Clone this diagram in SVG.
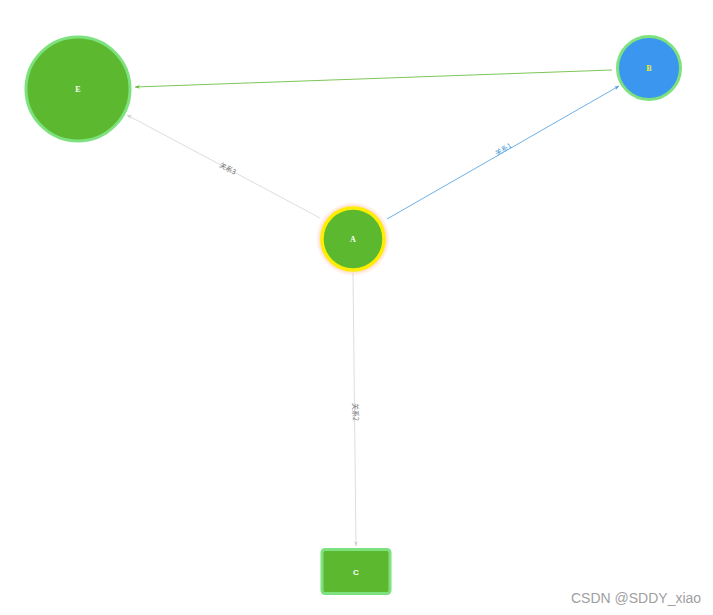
<svg xmlns="http://www.w3.org/2000/svg" width="713" height="615" viewBox="0 0 713 615">
<defs>
<style>
.node{fill:#5cb82f;stroke:#7de27d;stroke-width:3}
.nt{font-family:"Liberation Serif",serif;font-size:8px;font-weight:bold;fill:#ffffff;text-anchor:middle;dominant-baseline:central}
.el{fill:none;stroke-width:0.8}
.lt{font-family:"Noto Sans CJK SC",sans-serif;font-size:7px;fill:#777;text-anchor:middle;dominant-baseline:central}
</style>
<marker id="ag" viewBox="0 0 10 10" refX="10" refY="5" markerWidth="6" markerHeight="6" orient="auto"><path d="M0,1 L10,5 L0,9 L3,5 Z" fill="#cccccc"/></marker>
<marker id="ab" viewBox="0 0 10 10" refX="10" refY="5" markerWidth="6" markerHeight="6" orient="auto"><path d="M0,1 L10,5 L0,9 L3,5 Z" fill="#4a9ce0"/></marker>
<marker id="agr" viewBox="0 0 10 10" refX="10" refY="5" markerWidth="6" markerHeight="6" orient="auto"><path d="M0,1 L10,5 L0,9 L3,5 Z" fill="#5cb82f"/></marker>
<radialGradient id="glow" cx="0.5" cy="0.5" r="0.5"><stop offset="0.8" stop-color="#ffb080" stop-opacity="0.7"/><stop offset="1" stop-color="#ffb080" stop-opacity="0"/></radialGradient>
</defs>
<rect width="713" height="615" fill="#ffffff"/>
<g id="connectors">
<line class="el" x1="387" y1="219" x2="619" y2="86" stroke="#4a9ce0" marker-end="url(#ab)"/>
<text class="lt" x="503" y="149" style="fill:#4a9ce0" transform="rotate(-29.8 503 149)">关系1</text>
<line class="el" x1="320" y1="218" x2="127" y2="115" stroke="#d4d4d4" marker-end="url(#ag)"/>
<text class="lt" x="228" y="168" transform="rotate(28 228 168)">关系3</text>
<line class="el" x1="353" y1="273" x2="356" y2="546" stroke="#d4d4d4" marker-end="url(#ag)"/>
<text class="lt" x="356" y="412" transform="rotate(90 356 412)">关系2</text>
<line class="el" x1="612" y1="70" x2="135" y2="87" stroke="#5cb82f" marker-end="url(#agr)"/>
</g>
<g id="node-E"><circle class="node" cx="78" cy="89" r="52"/><text class="nt" x="78" y="89">E</text></g>
<g id="node-B"><circle class="node" cx="649" cy="68" r="31.5" style="fill:#3a96ef"/><text class="nt" x="649" y="68" style="fill:#f0f030">B</text></g>
<g id="node-A"><circle cx="353" cy="239" r="37" fill="url(#glow)"/><circle class="node" cx="353" cy="239" r="31" style="stroke:#ffee00;stroke-width:3.5"/><text class="nt" x="353" y="239">A</text></g>
<g id="node-C"><rect class="node" x="322" y="549.5" width="68" height="44" rx="3"/><text class="nt" x="356" y="572" style="font-family:'Liberation Sans',sans-serif">C</text></g>
<text x="571" y="603" font-family="Liberation Sans,sans-serif" font-size="14" fill="#a0a0a0">CSDN @SDDY_xiao</text>
</svg>
